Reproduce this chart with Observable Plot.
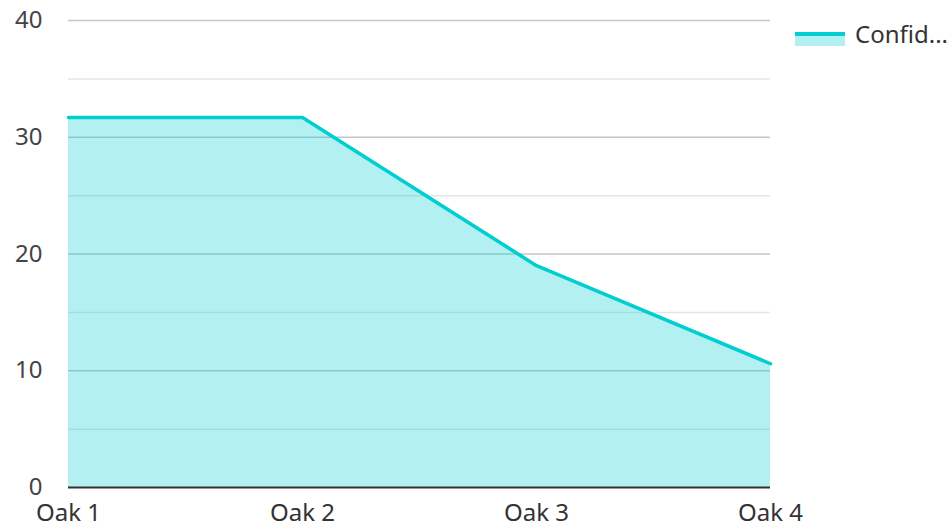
<!DOCTYPE html>
<html>
<head>
<meta charset="utf-8">
<script src="https://cdn.jsdelivr.net/npm/d3@7"></script>
<script src="https://cdn.jsdelivr.net/npm/@observablehq/plot@0.6"></script>
<style>
  html, body { margin: 0; padding: 0; background: #fff; }
  #wrap { position: relative; width: 952px; height: 528px; font-family: "Noto Sans", "Open Sans", sans-serif; }
  #legend { position: absolute; left: 795px; top: 17px; display: flex; align-items: center; font-size: 24px; color: #333; }
  #legend .sw { position: relative; width: 50px; height: 26px; margin-right: 10px; }
  #legend .sw .ln { position: absolute; left: 0; top: 11px; width: 50px; height: 4px; background: #00ced1; }
  #legend .sw .ar { position: absolute; left: 0; top: 14px; width: 50px; height: 11px; background: rgba(0,206,209,0.3); }
</style>
</head>
<body>
<div id="wrap">
  <div id="chart"></div>
  <div id="legend"><div class="sw"><div class="ar"></div><div class="ln"></div></div><span>Confid...</span></div>
</div>
<script>
const categories = ["Oak 1", "Oak 2", "Oak 3", "Oak 4"];
const values = [31.7, 31.7, 19.0, 10.6];
const majorTicks = [0, 10, 20, 30, 40];
const minorTicks = [5, 15, 25, 35];
const seriesName = "Confidence";

const data = categories.map((c, i) => ({cat: c, v: values[i]}));

const chart = Plot.plot({
  width: 952,
  height: 528,
  marginLeft: 68,
  marginRight: 182,
  marginTop: 20,
  marginBottom: 41,
  style: {fontFamily: "'Noto Sans', 'Open Sans', sans-serif", fontSize: "24px", color: "#444", background: "#fff", overflow: "visible"},
  x: {type: "point", domain: categories, padding: 0},
  y: {domain: [0, 40]},
  marks: [
    Plot.ruleY(minorTicks, {stroke: "#e6e6e6", strokeWidth: 1.5}),
    Plot.ruleY(majorTicks.filter(d => d > 0), {stroke: "#c6c6c6", strokeWidth: 1.5}),
    Plot.areaY(data, {x: "cat", y: "v", fill: "#00ced1", fillOpacity: 0.3, curve: "linear"}),
    Plot.lineY(data, {x: "cat", y: "v", stroke: "#00ced1", strokeWidth: 3.5, curve: "linear"}),
    Plot.ruleY([0], {stroke: "#333", strokeWidth: 2}),
    Plot.axisY(majorTicks, {tickSize: 0, tickPadding: 26, fill: "#444", fontSize: 24, label: null}),
    Plot.axisX(categories, {tickSize: 0, tickPadding: 16, fill: "#333", fontSize: 24, label: null})
  ]
});
document.getElementById("chart").appendChild(chart);
</script>
</body>
</html>
